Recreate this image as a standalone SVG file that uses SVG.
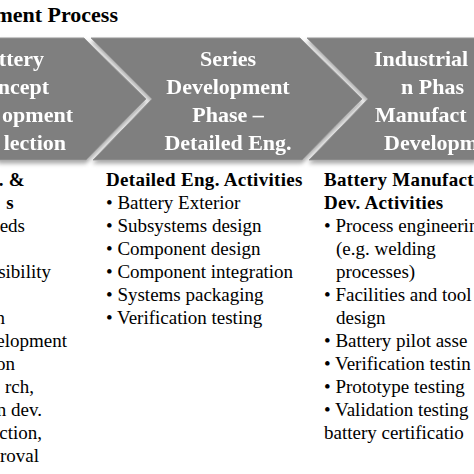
<svg xmlns="http://www.w3.org/2000/svg" width="474" height="474" viewBox="0 0 474 474">
<defs>
<filter id="sh" x="-10%" y="-10%" width="120%" height="130%">
<feDropShadow dx="0" dy="3" stdDeviation="2" flood-color="#000" flood-opacity="0.35"/>
</filter>
<linearGradient id="gl" x1="0" y1="0" x2="0" y2="1">
<stop offset="0" stop-color="#a0a0a0"/>
<stop offset="1" stop-color="#7a7a7a"/>
</linearGradient>
</defs>
<style>
.chev{fill:#7f7f7f;stroke:#959595;stroke-width:1}
.ct{font-family:"Liberation Serif","Times New Roman",serif;font-weight:bold;font-size:22px;fill:#ffffff}
.t{font-family:"Liberation Serif","Times New Roman",serif;font-size:19px;fill:#000000}
.b{font-weight:bold;letter-spacing:0.3px}
.title{font-family:"Liberation Serif","Times New Roman",serif;font-weight:bold;font-size:22px;fill:#000000}
</style>
<rect width="474" height="474" fill="#ffffff"/>
<text class="title" x="118" y="22" text-anchor="end">ment Process</text>
<g id="connectors"></g>
<g filter="url(#sh)">
<g id="phase1">
<polygon class="chev" points="-2,38 84,38 146,99 86,160 -2,160"/>
<text class="ct" text-anchor="end"><tspan x="44" y="66">ttery</tspan><tspan x="49" y="94">ncept</tspan><tspan x="73" y="122">opment</tspan><tspan x="66" y="150">lection</tspan></text>
</g>
<g id="phase2">
<polygon class="chev" points="91,38 300,38 362,99 302,160 93,160 152,99"/>
<text class="ct" text-anchor="middle"><tspan x="228" y="66">Series</tspan><tspan x="228" y="94">Development</tspan><tspan x="228" y="122">Phase –</tspan><tspan x="228" y="150">Detailed Eng.</tspan></text>
</g>
<g id="phase3">
<polygon class="chev" points="307,38 476,38 476,160 309,160 368,99"/>
<text class="ct"><tspan x="374" y="66">Industrial</tspan><tspan x="401" y="94">n Phas</tspan><tspan x="375" y="122">Manufact</tspan><tspan x="384" y="150">Developm</tspan></text>
</g>
</g>
<g id="col1" class="t" text-anchor="end">
<text class="t b" x="25" y="186">. &amp;</text>
<text class="t b" x="14" y="209">s</text>
<text class="t" x="25" y="232">eds</text>
<text class="t" x="51" y="278">asibility</text>
<text class="t" x="5" y="324">n</text>
<text class="t" x="67" y="347">elopment</text>
<text class="t" x="15" y="370">on</text>
<text class="t" x="34" y="393">rch,</text>
<text class="t" x="42" y="416">n dev.</text>
<text class="t" x="42" y="439">ction,</text>
<text class="t" x="39" y="462">roval</text>
</g>
<g id="col2">
<text class="t b" x="106" y="186">Detailed Eng. Activities</text>
<text class="t" x="106" y="209">• Battery Exterior</text>
<text class="t" x="106" y="232">• Subsystems design</text>
<text class="t" x="106" y="255">• Component design</text>
<text class="t" x="106" y="278">• Component integration</text>
<text class="t" x="106" y="301">• Systems packaging</text>
<text class="t" x="106" y="324">• Verification testing</text>
</g>
<g id="col3">
<text class="t b" x="324" y="186">Battery Manufactu</text>
<text class="t b" x="324" y="209">Dev. Activities</text>
<text class="t" x="324" y="232">• Process engineerin</text>
<text class="t" x="336" y="255">(e.g. welding</text>
<text class="t" x="336" y="278">processes)</text>
<text class="t" x="324" y="301">• Facilities and tool</text>
<text class="t" x="336" y="324">design</text>
<text class="t" x="324" y="347">• Battery pilot asse</text>
<text class="t" x="324" y="370">• Verification testin</text>
<text class="t" x="324" y="393">• Prototype testing</text>
<text class="t" x="324" y="416">• Validation testing</text>
<text class="t" x="324" y="439">battery certificatio</text>
</g>
</svg>
